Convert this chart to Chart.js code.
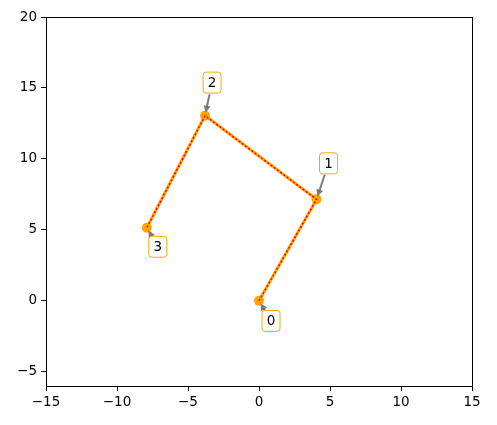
<!DOCTYPE html>
<html>
<head>
<meta charset="utf-8">
<script src="https://cdn.jsdelivr.net/npm/chart.js@4"></script>
<style>html,body{margin:0;padding:0;background:#fff}</style>
</head>
<body>
<canvas id="c" width="497" height="425"></canvas>
<script>
// data
const xValues = [0, 4.05, -3.8, -7.9];
const yValues = [0, 7.15, 13.05, 5.15];
const pointLabels = ['0', '1', '2', '3'];
const xTicks = [-15, -10, -5, 0, 5, 10, 15];
const yTicks = [-5, 0, 5, 10, 15, 20];

const pts = xValues.map((x, i) => ({ x: x, y: yValues[i] }));
const fontFam = "'DejaVu Sans', sans-serif";

function fmt(v) {
  return String(v).replace('-', '\u2212');
}

// text box offsets from the point, in px
const boxOffsets = [[12, 20], [12, -36], [7, -33], [11, 19]];

const annotatePlugin = {
  id: 'annotate',
  afterDatasetsDraw(chart) {
    const ctx = chart.ctx;
    const xs = chart.scales.x, ys = chart.scales.y;
    ctx.save();
    ctx.font = '13.5px ' + fontFam;
    pts.forEach((p, i) => {
      const px = xs.getPixelForValue(p.x);
      const py = ys.getPixelForValue(p.y);
      const bx = px + boxOffsets[i][0];
      const by = py + boxOffsets[i][1];
      // arrow
      const dx = px - bx, dy = py - by;
      const len = Math.sqrt(dx * dx + dy * dy);
      const ux = dx / len, uy = dy / len;
      const sx = bx + ux * 12, sy = by + uy * 12;
      const ex = px - ux * 3, ey = py - uy * 3;
      ctx.strokeStyle = 'rgba(110,110,110,0.9)';
      ctx.fillStyle = 'rgba(110,110,110,0.9)';
      ctx.lineWidth = 2;
      ctx.beginPath();
      ctx.moveTo(sx, sy);
      ctx.lineTo(ex - ux * 5, ey - uy * 5);
      ctx.stroke();
      ctx.beginPath();
      ctx.moveTo(ex, ey);
      ctx.lineTo(ex - ux * 7 - uy * 3.5, ey - uy * 7 + ux * 3.5);
      ctx.lineTo(ex - ux * 7 + uy * 3.5, ey - uy * 7 - ux * 3.5);
      ctx.closePath();
      ctx.fill();
      // box
      const w = 18, h = 21;
      ctx.beginPath();
      ctx.roundRect(bx - w / 2, by - h / 2, w, h, 3);
      ctx.fillStyle = '#fff';
      ctx.fill();
      ctx.strokeStyle = 'orange';
      ctx.lineWidth = 1;
      ctx.stroke();
      ctx.fillStyle = '#000';
      ctx.textAlign = 'center';
      ctx.textBaseline = 'middle';
      ctx.fillText(pointLabels[i], bx, by + 1);
    });
    ctx.restore();
  }
};

const framePlugin = {
  id: 'frame',
  afterDraw(chart) {
    const a = chart.chartArea;
    const ctx = chart.ctx;
    ctx.save();
    ctx.strokeStyle = '#000';
    ctx.lineWidth = 1;
    ctx.strokeRect(Math.round(a.left) + 0.5, Math.round(a.top) + 0.5,
      Math.round(a.right - a.left), Math.round(a.bottom - a.top));
    ctx.restore();
  }
};

new Chart(document.getElementById('c'), {
  type: 'line',
  data: {
    datasets: [
      {
        data: pts,
        borderColor: 'red',
        borderWidth: 1.5,
        borderDash: [2, 2],
        pointRadius: 0,
        fill: false,
        tension: 0
      },
      {
        data: pts,
        borderColor: 'orange',
        borderWidth: 3,
        pointRadius: 3.5,
        pointBackgroundColor: 'orange',
        pointBorderColor: 'orange',
        fill: false,
        tension: 0
      }
    ]
  },
  options: {
    responsive: false,
    animation: false,
    layout: { padding: { top: 17, right: 25, left: 0, bottom: 0 } },
    plugins: { legend: { display: false }, tooltip: { enabled: false } },
    scales: {
      x: {
        type: 'linear',
        min: -15,
        max: 15,
        afterBuildTicks: s => { s.ticks = xTicks.map(v => ({ value: v })); },
        afterFit: s => { s.height = 39; },
        border: { color: '#000' },
        grid: { drawOnChartArea: false, tickLength: 5, color: '#000' },
        ticks: {
          color: '#000',
          padding: 3,
          maxRotation: 0,
          font: { family: fontFam, size: 13.5 },
          callback: v => fmt(v)
        }
      },
      y: {
        type: 'linear',
        min: -6,
        max: 20,
        afterBuildTicks: s => { s.ticks = yTicks.map(v => ({ value: v })); },
        afterFit: s => { s.width = 46; },
        border: { color: '#000' },
        grid: { drawOnChartArea: false, tickLength: 5, color: '#000' },
        ticks: {
          color: '#000',
          padding: 4,
          font: { family: fontFam, size: 13.5 },
          callback: v => fmt(v)
        }
      }
    }
  },
  plugins: [annotatePlugin, framePlugin]
});
</script>
</body>
</html>
